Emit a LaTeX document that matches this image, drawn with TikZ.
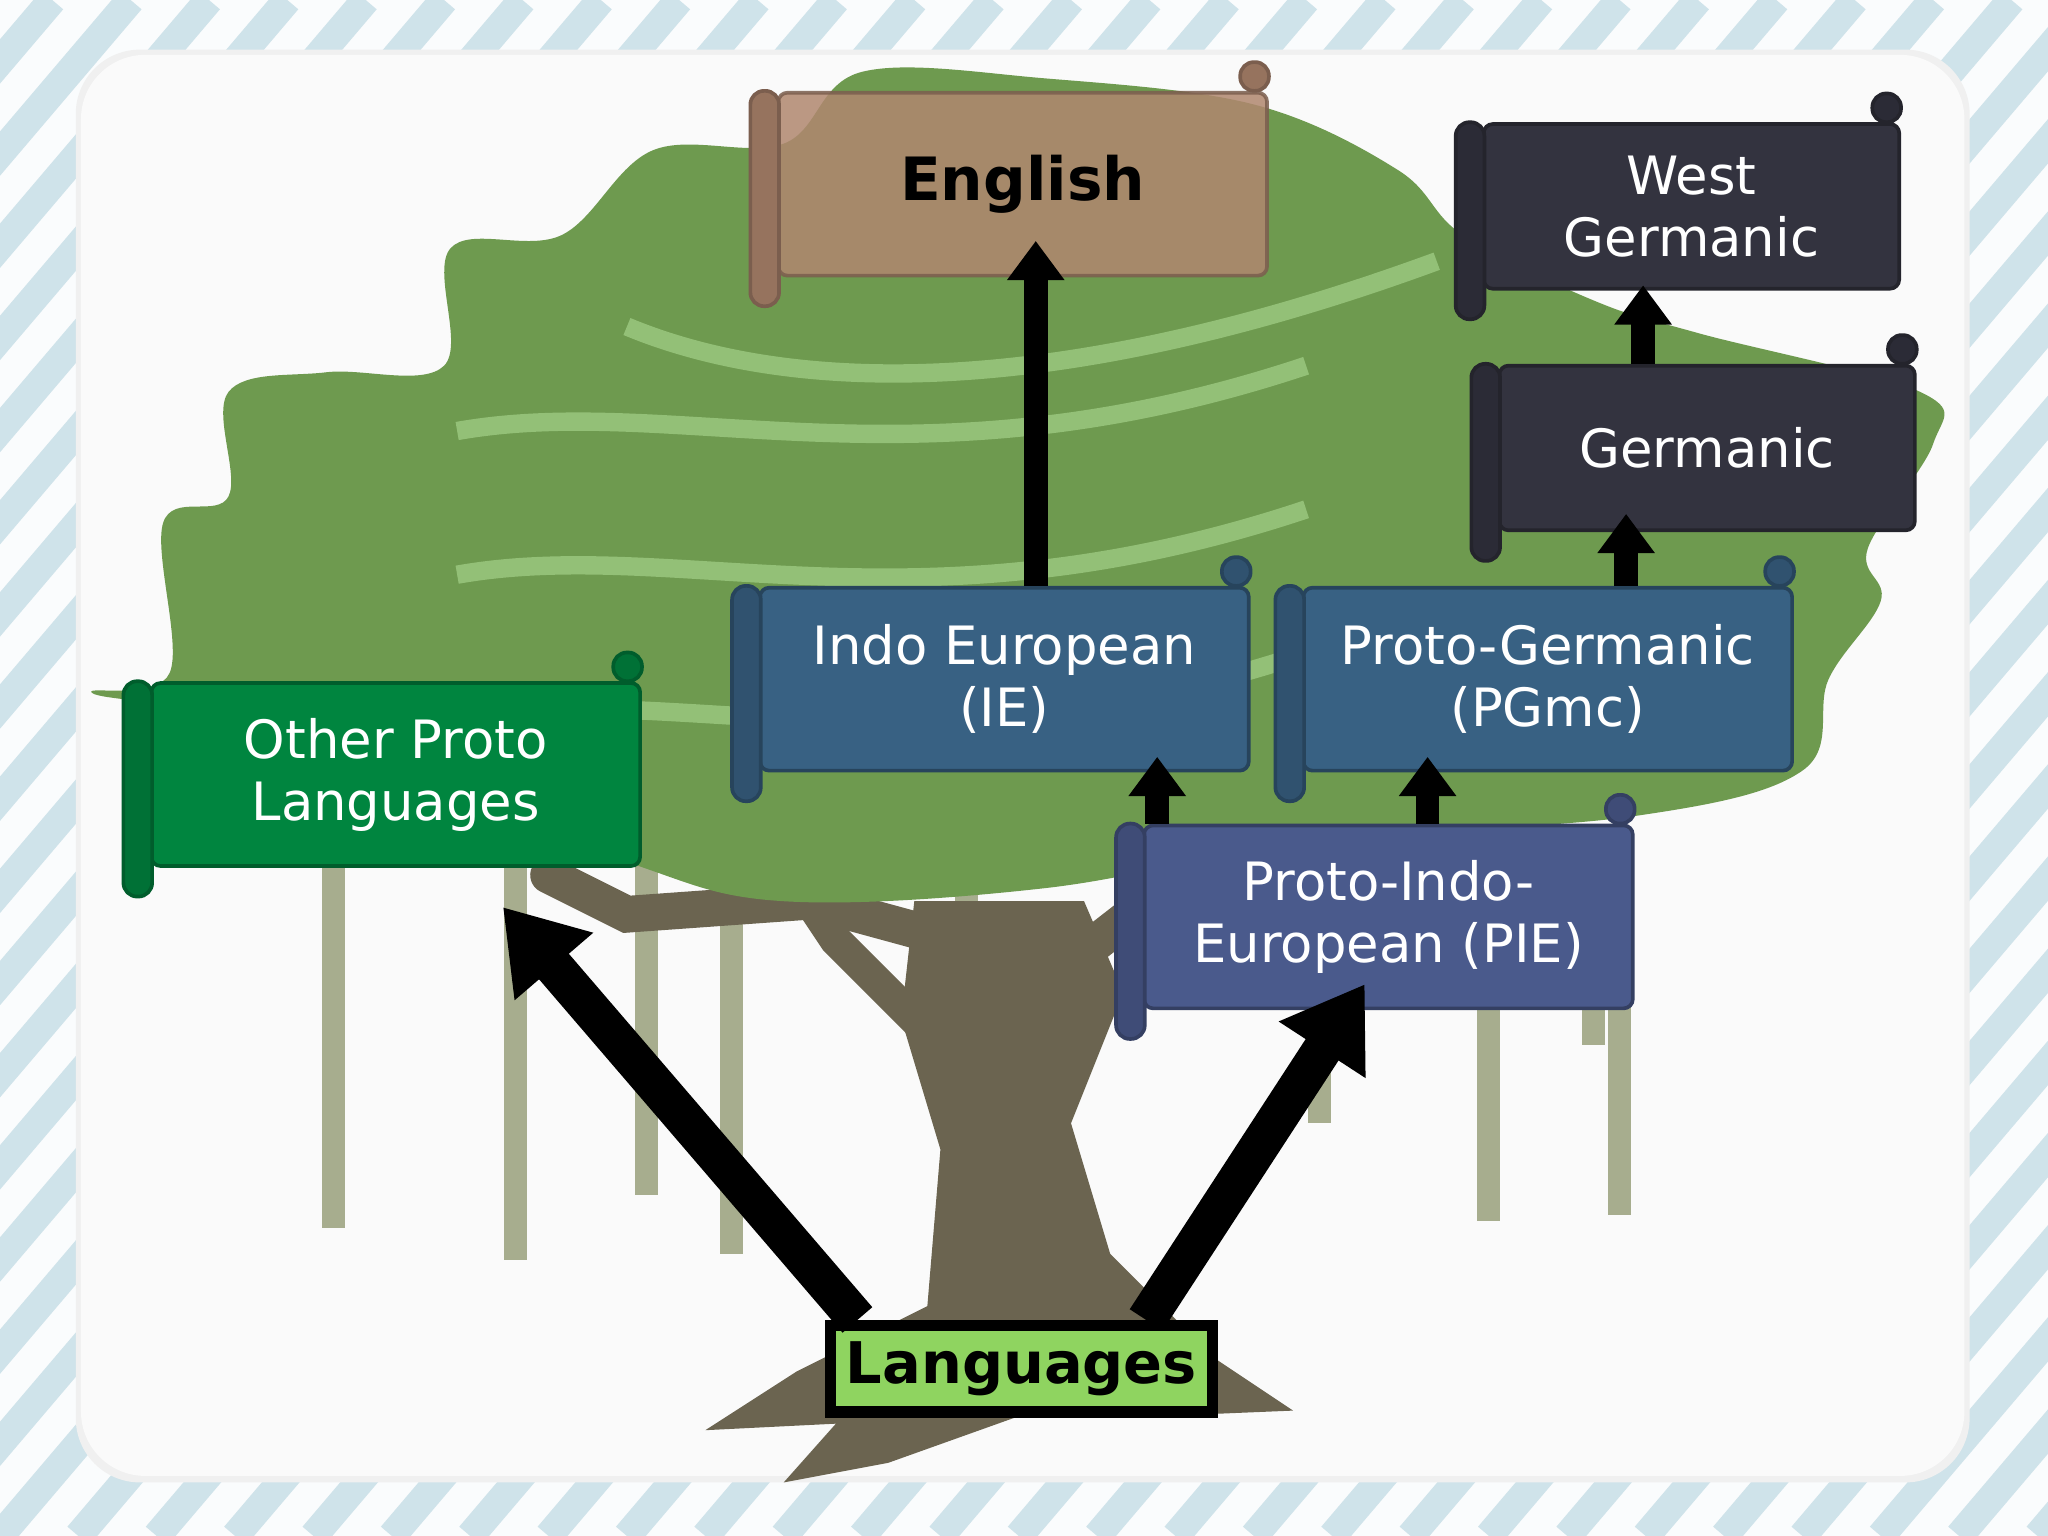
\documentclass[tikz,border=0pt]{standalone}
\usepackage{fontspec}
\setmainfont{DejaVu Sans}
\usetikzlibrary{arrows.meta,positioning,calc}
\definecolor{stripe}{HTML}{CFE3EA}
\definecolor{leaf}{HTML}{6E9A4F}
\definecolor{leaflight}{HTML}{93C077}
\definecolor{bark}{HTML}{6B6450}
\definecolor{root}{HTML}{A7AD8E}
\definecolor{engfill}{HTML}{B0876F}
\definecolor{darkbox}{HTML}{33333F}
\definecolor{iebox}{HTML}{386183}
\definecolor{greenbox}{HTML}{00853F}
\definecolor{piebox}{HTML}{4A5A8C}
\definecolor{langfill}{HTML}{8FD460}
\tikzset{
    scroll/.style={draw=#1!70!black, fill=#1, rounded corners=2pt, minimum width=3.74cm,
        minimum height=1.4cm, align=center, text=white, line width=0.8pt,
        font=\fontsize{11.5}{13.5}\selectfont},
    roll/.style={draw=#1!70!black, fill=#1!85!black, rounded corners=3pt, line width=0.8pt},
    fat/.style={line width=0.3cm, -{Triangle[width=0.75cm,length=0.6cm]}},
    thin/.style={line width=0.18cm, -{Triangle[width=0.42cm,length=0.3cm]}}
}
\newcommand{\rolls}[2]{%
    \draw[roll=#2] ($(#1.north west)+(-20,0)$) rectangle ($(#1.south west)+(2,22)$);
    \draw[roll=#2] ($(#1.north east)+(-22,-22)$) rectangle ($(#1.north east)+(0,0)$);}
\begin{document}
\begin{tikzpicture}[x=0.01cm, y=-0.01cm]
    % background stripes
    \fill[white!90!stripe] (0,0) rectangle (1568,1176);
    \begin{scope}
        \clip (0,0) rectangle (1568,1176);
        \foreach \i in {-1200,-1140,...,1600}
            \draw[stripe, line width=0.22cm] (\i,1176) -- (\i+1000,0);
    \end{scope}
    \fill[white!60!gray!30, rounded corners=14pt] (58,38) rectangle (1508,1135);
    \fill[white!96!gray, rounded corners=14pt] (62,42) rectangle (1504,1130);

    % roots
    \foreach \x/\a/\b in {255/650/940, 395/660/965, 495/650/915, 560/670/960, 740/640/900,
            1010/700/860, 1140/620/935, 1240/640/930, 1220/700/800}
        \draw[root, line width=5pt] (\x,\a) -- (\x,\b);

    % trunk
    \fill[bark] (700,690) -- (830,690) -- (860,760) -- (820,860) -- (850,960)
        -- (930,1040) -- (990,1080) -- (870,1085) -- (820,1070) -- (680,1120)
        -- (600,1135) -- (640,1090) -- (540,1095) -- (610,1050) -- (710,1000)
        -- (720,880) -- (690,780) -- cycle;
    \draw[bark, line width=8pt, line cap=round] (730,720) -- (620,690) -- (480,700) -- (420,670);
    \draw[bark, line width=8pt, line cap=round] (790,760) -- (880,690) -- (980,640);
    \draw[bark, line width=7pt, line cap=round] (720,800) -- (640,720) -- (600,660);

    % canopy
    \fill[leaf] plot[smooth cycle, tension=0.6] coordinates {
        (70,530) (130,515) (125,400) (175,380) (175,300) (250,285) (340,280)
        (345,190) (430,180) (500,115) (600,110) (660,55) (800,60) (960,80)
        (1070,130) (1120,180) (1220,230) (1300,255) (1470,300) (1480,340)
        (1430,420) (1440,460) (1400,520) (1380,590) (1250,625) (1000,645)
        (800,680) (600,690) (480,660) (300,590) (150,545)};
    \foreach \s in {0,110,220}
        \draw[leaflight, line width=4pt] (350,330+\s) .. controls (520,300+\s) and (700,380+\s) .. (1000,280+\s);
    \draw[leaflight, line width=4pt] (480,250) .. controls (600,300) and (800,310) .. (1100,200);

    % boxes
    \node[scroll=engfill, opacity=0.85, text=black, text opacity=1,
        font=\fontsize{13}{15}\selectfont\bfseries] (eng) at (783,141) {English};
    \rolls{eng}{engfill}
    \node[scroll=darkbox, minimum width=3.18cm, minimum height=1.26cm] (wg) at (1295,158) {West\\Germanic};
    \rolls{wg}{darkbox}
    \node[scroll=darkbox, minimum width=3.18cm, minimum height=1.26cm] (germ) at (1307,343) {Germanic};
    \rolls{germ}{darkbox}
    \node[scroll=iebox] (ie) at (769,520) {Indo European\\(IE)};
    \rolls{ie}{iebox}
    \node[scroll=iebox] (pgmc) at (1185,520) {Proto-Germanic\\(PGmc)};
    \rolls{pgmc}{iebox}
    \node[scroll=greenbox] (other) at (303,593) {Other Proto\\Languages};
    \rolls{other}{greenbox}
    \node[scroll=piebox] (pie) at (1063,702) {Proto-Indo-\\European (PIE)};
    \rolls{pie}{piebox}
    \node[draw=black, line width=2.5pt, fill=langfill, minimum width=2.72cm,
        minimum height=0.66cm, font=\fontsize{12.5}{14}\selectfont\bfseries] (lang) at (782,1048) {Languages};

    % arrows
    \draw[fat] ($(lang.north west)+(25,0)$) -- ($(other.south)+(82,30)$);
    \draw[fat] ($(lang.north east)+(-55,0)$) -- ($(pie.south)+(-18,-20)$);
    \draw[thin] (ie.north -| 793,0) -- ($(eng.south)+(10,-28)$);
    \draw[thin] (pie.north -| 886,0) -- ($(ie.south)+(117,-12)$);
    \draw[thin] (pie.north -| 1093,0) -- ($(pgmc.south)+(-92,-12)$);
    \draw[thin] (pgmc.north -| 1245,0) -- ($(germ.south)+(-62,-14)$);
    \draw[thin] (germ.north -| 1258,0) -- ($(wg.south)+(-37,-4)$);
\end{tikzpicture}
\end{document}
